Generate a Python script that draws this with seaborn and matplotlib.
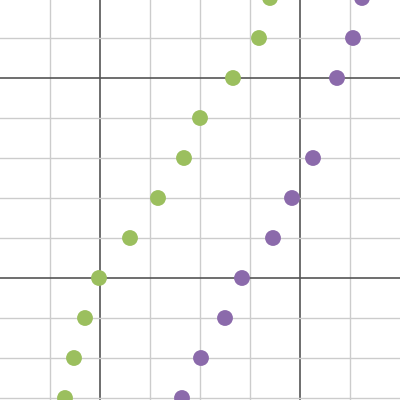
import matplotlib
matplotlib.use("Agg")
import matplotlib.pyplot as plt
import seaborn as sns
import pandas as pd

green_x = [1.30, 1.48, 1.70, 1.98, 2.60, 3.16, 3.68, 4.00, 4.66, 5.18, 5.40]
green_y = [0, 1, 2, 3, 4, 5, 6, 7, 8, 9, 10]
purple_x = [3.64, 4.02, 4.50, 4.84, 5.46, 5.84, 6.26, 6.74, 7.06, 7.24]
purple_y = [0, 1, 2, 3, 4, 5, 6, 8, 9, 10]

df = pd.concat([
    pd.DataFrame({"x": green_x, "y": green_y, "s": "g"}),
    pd.DataFrame({"x": purple_x, "y": purple_y, "s": "p"}),
])

fig = plt.figure(figsize=(4, 4), dpi=100)
ax = fig.add_axes([0, 0, 1, 1])
ax.set_xlim(0, 8)
ax.set_ylim(-0.05, 9.95)
for v in range(1, 8):
    ax.axvline(v, color="#555555" if v in (2, 6) else "#cccccc", lw=1.2 if v in (2, 6) else 1, zorder=0)
for v in range(0, 10):
    ax.axhline(v, color="#555555" if v in (3, 8) else "#cccccc", lw=1.2 if v in (3, 8) else 1, zorder=0)
sns.scatterplot(data=df, x="x", y="y", hue="s", palette={"g": "#9bbf5e", "p": "#8b6aab"},
                s=130, edgecolor="none", legend=False, ax=ax, zorder=3, clip_on=False)
ax.set_axis_off()
fig.savefig("out.png", dpi=100)
